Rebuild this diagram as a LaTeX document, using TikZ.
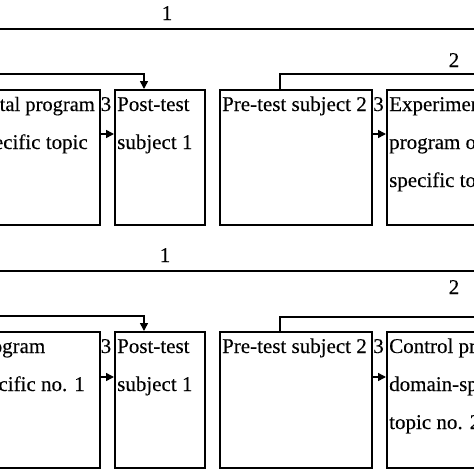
\documentclass[tikz,border=0pt]{standalone}
\usepackage{fontspec}
\newfontfamily\diagfont[FakeBold=0.25]{Liberation Serif}
\usetikzlibrary{arrows.meta}
\begin{document}
\begin{tikzpicture}[x=1pt,y=-1pt,
  boxnode/.style={draw,line width=1.5pt,inner sep=0pt,anchor=north west},
  ln/.style={line width=1.5pt},
  arr/.style={line width=1.5pt,-{Triangle[length=8pt,width=8pt]}},
  txt/.style={font=\diagfont\fontsize{21}{25}\selectfont,inner sep=0pt},
  lbl/.style={font=\diagfont\fontsize{21}{25}\selectfont,inner sep=0pt,anchor=base}]
\useasboundingbox (0,0) rectangle (474,474);
\clip (0,0) rectangle (474,474);
% ---------- top half ----------
\node[boxnode,minimum width=119pt,minimum height=135pt] (La) at (-20,89) {};
\node[boxnode,minimum width=90pt,minimum height=135pt] (Pa) at (114,89) {};
\node[boxnode,minimum width=152pt,minimum height=135pt] (Ra) at (219,89) {};
\node[boxnode,minimum width=110pt,minimum height=135pt] (Ea) at (386,89) {};
\coordinate (a1s) at (-5,29); \coordinate (a1e) at (480,29);
\draw[ln] (a1s) -- (a1e);
\node[lbl] (n1a) at (167,20) {1};
\coordinate (a3s) at (-5,74);
\draw[arr] (a3s) -| ([xshift=30pt]Pa.north west);
\coordinate (a2e) at (480,74);
\draw[ln] ([xshift=61pt]Ra.north west) |- (a2e);
\node[lbl] (n2a) at (454,67) {2};
\draw[arr] (La.east |- 0,134) -- (Pa.west |- 0,134);
\draw[arr] (Ra.east |- 0,134) -- (Ea.west |- 0,134);
\node[lbl] (t3a) at (106,111) {3};
\node[lbl] (t3b) at (378.5,111) {3};
\node[txt,anchor=base east,font=\diagfont\fontsize{20.5}{25}\selectfont] (la1) at (95,111) {tal program};
\node[txt,anchor=base east] (la2) at (88,149) {ecific topic};
\node[txt,anchor=base west] (pa1) at (117,111) {Post-test};
\node[txt,anchor=base west] (pa2) at (117,149) {subject 1};
\node[txt,anchor=base west] (ra1) at (222,111) {Pre-test subject 2};
\node[txt,anchor=base west] (ea1) at (389,111) {Experimen};
\node[txt,anchor=base west] (ea2) at (389,149) {program o};
\node[txt,anchor=base west] (ea3) at (389,187) {specific to};
% ---------- bottom half ----------
\node[boxnode,minimum width=119pt,minimum height=136pt] (Lb) at (-20,331) {};
\node[boxnode,minimum width=90pt,minimum height=136pt] (Pb) at (114,331) {};
\node[boxnode,minimum width=152pt,minimum height=136pt] (Rb) at (219,331) {};
\node[boxnode,minimum width=110pt,minimum height=136pt] (Eb) at (386,331) {};
\coordinate (b1s) at (-5,271); \coordinate (b1e) at (480,271);
\draw[ln] (b1s) -- (b1e);
\node[lbl] (n1b) at (165,262) {1};
\coordinate (b3s) at (-5,316);
\draw[arr] (b3s) -| ([xshift=30pt]Pb.north west);
\coordinate (b2e) at (480,317);
\draw[ln] ([xshift=61pt]Rb.north west) |- (b2e);
\node[lbl] (n2b) at (454,294) {2};
\draw[arr] (Lb.east |- 0,377) -- (Pb.west |- 0,377);
\draw[arr] (Rb.east |- 0,377) -- (Eb.west |- 0,377);
\node[lbl] (t3c) at (106,353) {3};
\node[lbl] (t3d) at (378.5,353) {3};
\node[txt,anchor=base east] (lb1) at (45.5,353) {ogram};
\node[txt,anchor=base east] (lb2) at (85,391) {ecific no. 1};
\node[txt,anchor=base west] (pb1) at (117,353) {Post-test};
\node[txt,anchor=base west] (pb2) at (117,391) {subject 1};
\node[txt,anchor=base west] (rb1) at (222,353) {Pre-test subject 2};
\node[txt,anchor=base west] (eb1) at (389,353) {Control pr};
\node[txt,anchor=base west] (eb2) at (389,391) {domain-sp};
\node[txt,anchor=base west] (eb3) at (389,429) {topic no. 2};
\end{tikzpicture}
\end{document}
